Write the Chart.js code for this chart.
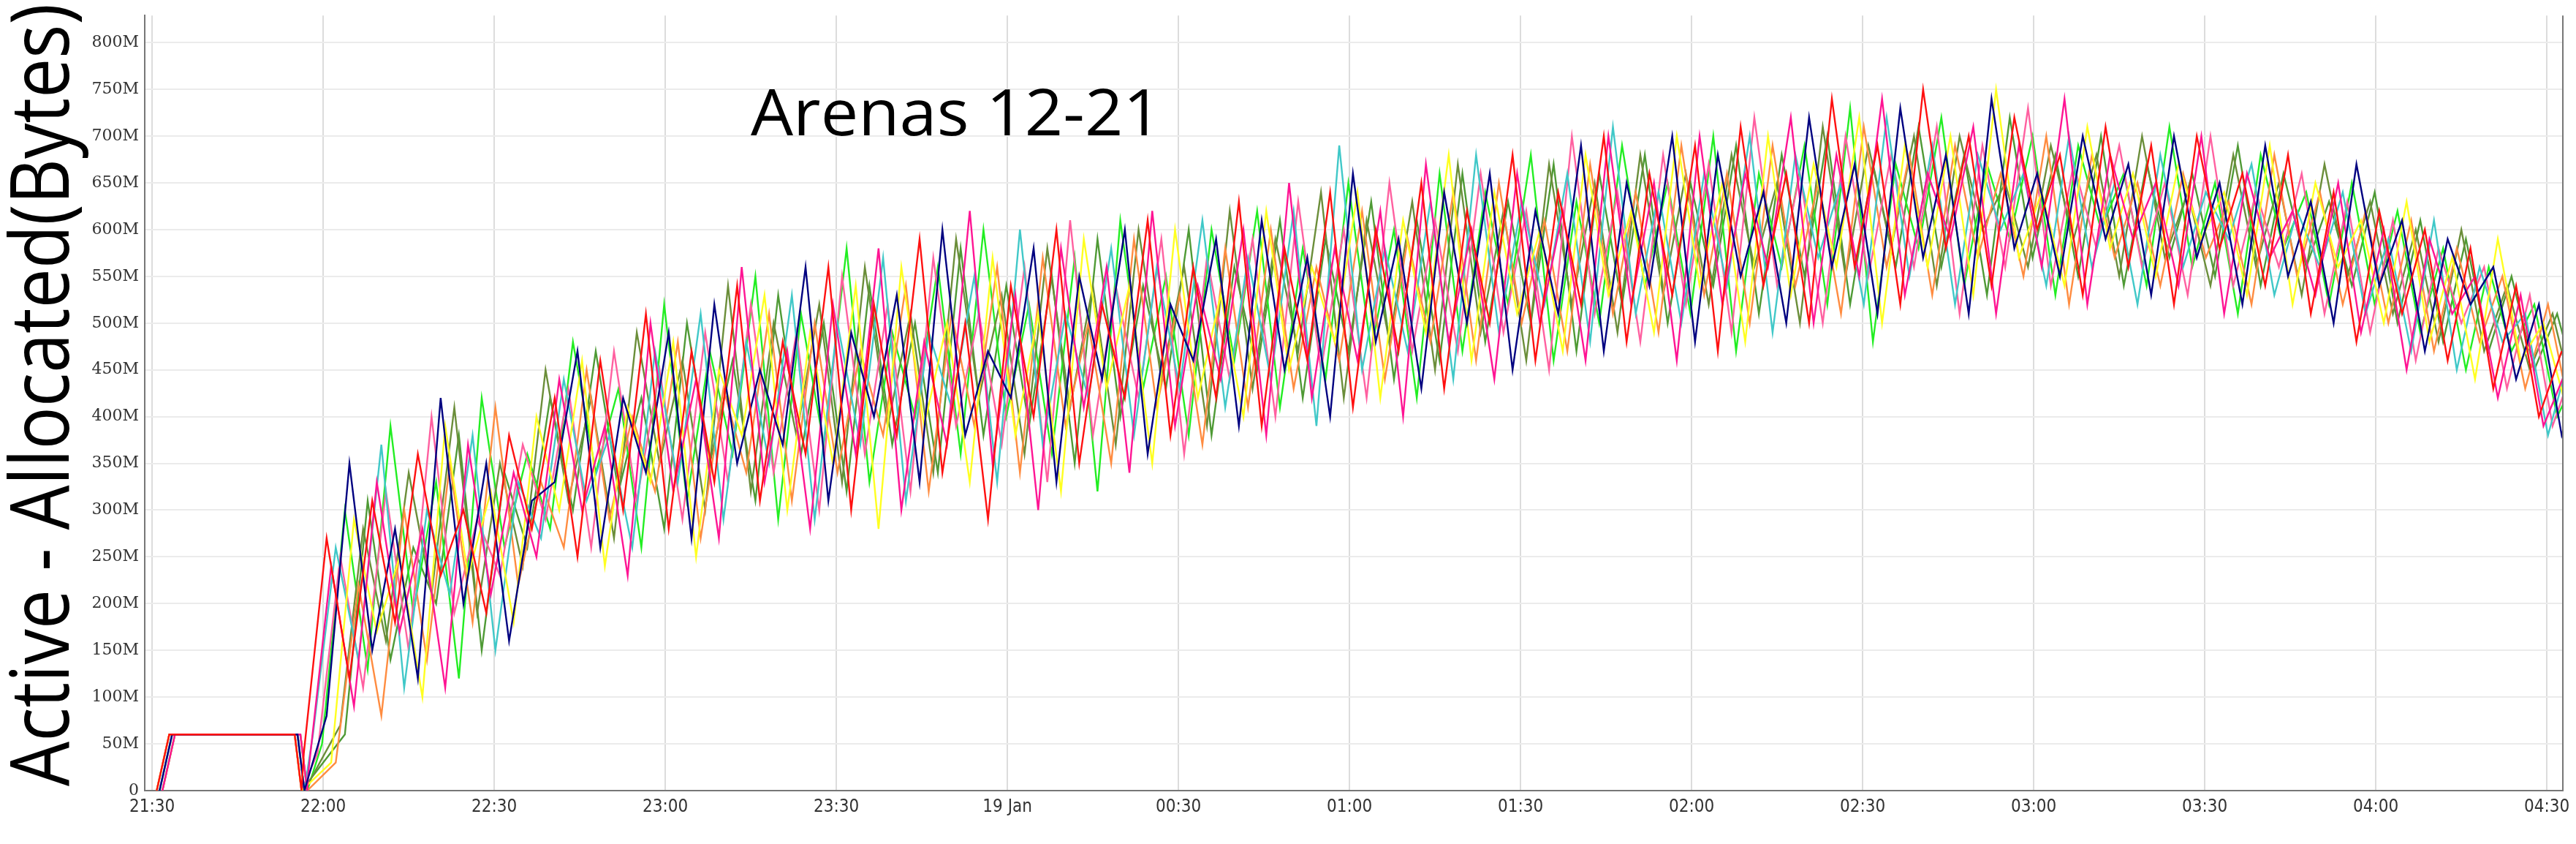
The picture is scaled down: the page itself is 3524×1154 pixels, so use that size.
<!DOCTYPE html>
<html><head><meta charset="utf-8">
<script src="https://cdn.jsdelivr.net/npm/chart.js@4/dist/chart.umd.min.js"></script>
<style>html,body{margin:0;padding:0;background:#fff}#wrap{width:3524px;height:1154px}</style>
</head><body><div id="wrap"><canvas id="c" width="3524" height="1154"></canvas></div>
<script>
// minutes after 21:30
const startX = [0.8, 3, 25, 26.2];
const activeStart = 26.6, activeStep = 4;
const phaseOffsets = [0, 4.0, 0.8, 4.8, 1.6, 5.6, 2.4, 6.4, 3.2, 7.2];
const startVals = [0, 60, 60, 0];
const tickMinutes = [0,30,60,90,120,150,180,210,240,270,300,330,360,390,420];
const tickLabels = ['21:30','22:00','22:30','23:00','23:30','19 Jan','00:30','01:00','01:30','02:00','02:30','03:00','03:30','04:00','04:30'];
const yTicks = [0,50,100,150,200,250,300,350,400,450,500,550,600,650,700,750,800];
const seriesColors = ['#ff1010','#000080','#ff1493','#ffff20','#40c8c8','#ff8c40','#ff60a0','#6b8e3a','#22ee22','#4f9a35'];
// values in MB
const sRed = [40,270,120,310,180,360,230,300,190,380,280,420,250,460,300,510,280,470,330,540,310,480,360,560,300,520,380,590,340,500,290,540,400,600,350,520,420,610,380,560,420,630,390,580,460,640,410,600,470,650,430,620,500,680,460,640,520,700,480,660,530,690,470,710,540,660,500,740,560,690,520,750,580,700,540,720,600,680,530,710,560,690,520,700,580,660,540,680,510,640,480,620,510,600,460,580,430,540,400,470];
const sNavy = [80,350,150,280,120,420,200,350,160,310,330,470,260,420,340,490,270,520,350,450,370,560,310,490,400,530,330,600,380,470,420,580,330,550,440,600,360,520,460,590,390,610,450,570,400,660,480,590,430,640,500,660,450,620,510,690,470,650,540,700,480,680,550,640,500,720,560,670,510,730,570,680,510,740,580,660,550,700,590,670,530,700,570,650,520,690,550,630,500,670,540,610,470,590,520,560,440,520,380,460];
const sPink = [20,240,90,330,170,280,110,370,210,340,250,440,300,390,230,500,320,440,270,560,330,470,280,520,360,580,300,480,370,620,350,530,300,580,410,560,340,620,390,540,440,600,380,650,420,580,460,620,400,670,480,600,440,660,500,620,460,700,520,650,460,700,520,660,560,720,500,680,550,740,530,660,590,710,510,690,560,740,520,680,590,650,540,700,510,660,570,620,530,650,490,600,450,590,510,550,420,530,390,450];
const sYellow = [30,290,170,250,100,390,230,320,180,400,300,460,240,410,330,480,250,450,380,530,300,490,350,540,280,560,390,500,330,570,380,510,320,590,430,540,350,600,420,530,400,620,450,560,480,640,420,610,490,680,460,640,510,600,470,680,530,620,490,700,540,650,480,700,530,670,560,720,500,690,560,700,530,750,570,640,540,710,580,660,550,670,590,640,530,690,520,650,560,610,500,630,480,570,440,590,460,500,410,440];
const sCyan = [60,260,140,370,110,300,210,380,150,330,270,440,310,380,260,470,330,510,290,480,350,530,290,500,370,570,310,490,410,550,330,600,370,510,420,580,380,560,430,610,410,570,440,620,390,690,450,580,470,630,440,680,490,630,520,660,480,710,510,640,500,660,540,700,490,680,570,650,520,720,550,690,520,680,600,660,540,700,560,650,520,680,560,640,590,670,530,620,560,640,510,590,470,610,450,560,480,510,380,470];
const sOrange = [30,220,80,300,140,350,180,410,220,330,260,450,290,400,320,480,270,430,340,510,310,500,340,470,380,540,320,510,390,560,340,570,390,500,350,590,410,530,370,580,410,600,430,560,460,620,440,590,480,640,460,650,500,610,470,670,510,640,490,690,530,660,500,690,540,650,510,710,560,680,530,690,570,660,550,700,520,680,570,650,540,660,570,630,520,680,550,640,520,620,500,610,470,580,480,550,430,520,400,440];
const sLightPink = [40,250,110,320,150,400,190,290,230,370,290,430,260,470,310,450,290,490,330,520,340,490,300,550,360,520,320,570,390,510,370,560,330,610,380,540,420,590,360,570,440,590,400,630,450,600,420,650,470,610,470,660,490,620,450,700,510,640,480,680,520,670,490,720,540,660,500,700,550,680,560,710,510,690,560,730,540,670,580,690,560,650,530,700,540,640,560,660,510,630,490,610,460,580,500,560,430,530,390,460];
const sOlive = [70,280,160,340,210,410,190,350,240,450,310,420,270,490,350,460,300,540,320,500,380,520,330,560,390,510,340,590,420,530,360,580,410,540,370,600,440,560,390,620,430,590,470,640,420,610,480,630,450,670,490,620,460,670,520,650,490,680,530,660,520,680,560,650,500,710,550,690,580,700,540,700,600,650,560,690,590,680,550,700,570,640,540,680,560,650,530,670,550,630,510,600,480,600,470,540,450,510,410,450];
const sLime = [50,300,130,390,190,330,120,420,260,360,280,480,340,430,260,520,310,470,360,550,290,510,370,580,330,490,400,560,360,600,400,520,360,570,320,610,430,550,380,600,460,620,410,580,440,650,470,600,420,660,470,640,520,680,460,630,500,690,540,650,510,700,470,660,560,690,520,730,480,670,580,720,540,670,590,700,530,690,600,660,540,710,560,650,510,680,580,640,520,650,520,620,490,580,450,560,470,520,400,450];
const sGreen = [60,310,140,260,200,380,150,340,260,420,300,470,320,420,280,500,350,460,310,530,360,500,320,540,370,500,340,580,380,540,390,550,350,590,400,540,430,600,380,560,450,610,420,590,470,630,440,610,460,660,480,630,500,670,470,660,520,680,500,650,540,690,510,680,550,700,520,670,560,710,560,680,530,720,570,680,550,700,540,670,570,660,550,690,540,660,560,630,540,640,500,610,480,590,470,550,450,510,420,440];
const allSeries = [sRed,sNavy,sPink,sYellow,sCyan,sOrange,sLightPink,sOlive,sLime,sGreen];

const datasets = allSeries.map((vals,k)=>{
  const pts = startX.map((x,j)=>({x:x + (k%3)*0.5, y:startVals[j]}));
  vals.forEach((v,i)=>pts.push({x:activeStart + phaseOffsets[k] + i*activeStep, y:v}));
  return {data:pts, borderColor:seriesColors[k], borderWidth:2.4, pointRadius:0, tension:0, fill:false};
});

const textPlugin = {
  id:'txt',
  afterDraw(chart){
    const ctx = chart.ctx, a = chart.chartArea;
    ctx.save();
    ctx.strokeStyle = '#777'; ctx.lineWidth = 2;
    ctx.beginPath(); ctx.moveTo(a.right, a.top); ctx.lineTo(a.right, a.bottom); ctx.stroke();
    ctx.fillStyle = '#000';
    ctx.font = '88px "Open Sans"';
    ctx.textBaseline = 'middle';
    let w = ctx.measureText('Arenas 12-21').width;
    ctx.translate(1027, 160); ctx.scale(562/w, 1);
    ctx.fillText('Arenas 12-21', 0, 0);
    ctx.restore();
    ctx.save();
    ctx.fillStyle = '#000';
    ctx.font = '112px "Open Sans"';
    ctx.textBaseline = 'middle'; ctx.textAlign = 'center';
    const t = 'Active - Allocated(Bytes)';
    w = ctx.measureText(t).width;
    ctx.translate(62, 540); ctx.rotate(-Math.PI/2); ctx.scale(1070/w, 1);
    ctx.fillText(t, 0, 0);
    ctx.restore();
  }
};

new Chart(document.getElementById('c'), {
  type:'line',
  data:{datasets},
  plugins:[textPlugin],
  options:{
    responsive:false, animation:false, events:[],
    layout:{padding:{top:7,right:18,left:0,bottom:0}},
    plugins:{legend:{display:false},tooltip:{enabled:false}},
    scales:{
      x:{type:'linear', min:-1.3, max:422.8,
        afterBuildTicks:s=>{s.ticks = tickMinutes.map(v=>({value:v}));},
        afterFit:s=>{s.height = 73;},
        ticks:{autoSkip:false, maxRotation:0, padding:8, color:'#333',
          font:{family:'"Liberation Sans Narrow","DejaVu Sans Condensed",sans-serif', size:24},
          callback:(v)=>{const i = tickMinutes.indexOf(v); return i>=0 ? tickLabels[i] : '';}},
        grid:{color:'#dcdcdc', lineWidth:2, drawTicks:false},
        border:{color:'#777', width:2}
      },
      y:{type:'linear', min:0, max:829,
        afterBuildTicks:s=>{s.ticks = yTicks.map(v=>({value:v}));},
        afterFit:s=>{s.width = 198;},
        ticks:{padding:8, color:'#333', font:{family:'"DejaVu Serif",serif', size:22},
          callback:v=> v===0 ? '0' : v+'M'},
        grid:{color:'#ebebeb', lineWidth:2, drawTicks:false},
        border:{color:'#777', width:2}
      }
    }
  }
});
</script></body></html>
